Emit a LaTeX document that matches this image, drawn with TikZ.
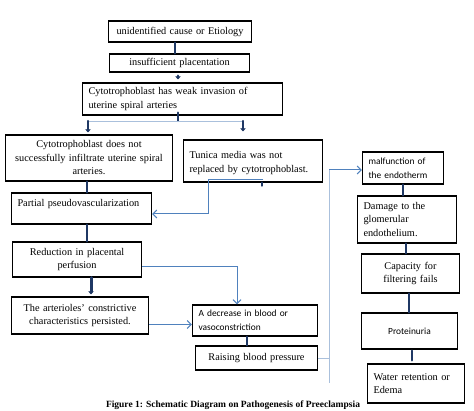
\documentclass[tikz,border=0pt]{standalone}
\usepackage{fontspec}
\setmainfont{Liberation Serif}
\newfontfamily\calibri{Carlito}
\usetikzlibrary{arrows.meta}
\definecolor{linkdark}{RGB}{31,56,100}
\definecolor{flowblue}{RGB}{79,129,189}
\definecolor{paleblue}{RGB}{170,192,220}
\tikzset{
  block/.style={rectangle, draw=black, line width=1.3pt, inner xsep=4pt,
                inner ysep=2pt, align=center,
                font=\fontsize{10.3}{13.5}\selectfont},
  blockL/.style={block, inner xsep=6pt, align=left},
  blockS/.style={block, font=\calibri\fontsize{9.4}{14}\selectfont},
  blockSL/.style={blockS, inner xsep=6pt, align=left},
  link/.style={draw=linkdark, line width=2.4pt, line cap=round},
  linkarrow/.style={link, -{Triangle[length=3pt,width=5.5pt]}},
  arrow/.style={-{Straight Barb[length=4pt,width=8pt]}, draw=flowblue,
                line width=1pt},
  thinline/.style={draw=paleblue, line width=0.9pt},
  caption/.style={font=\bfseries\fontsize{9.5}{11}\selectfont},
}

\begin{document}
\begin{tikzpicture}[x=1pt, y=-1pt]
  \useasboundingbox (0,0) rectangle (474,411);

  % --- Nodes ---
  \node[block, text width=135pt, minimum height=21pt] (cause) at (180,31.5)
    {unidentified cause or Etiology};
  \node[block, text width=132pt, minimum height=18pt] (placent) at (179.5,63)
    {insufficient placentation};
  \node[blockL, text width=188pt, minimum height=32pt] (weakinv) at (182.5,99)
    {Cytotrophoblast has weak invasion of\\uterine spiral arteries};

  \node[block, text width=159pt, minimum height=46pt] (noinfil) at (89,158)
    {Cytotrophoblast does not\\successfully infiltrate uterine spiral\\arteries.};
  \node[blockL, text width=127pt, minimum height=42pt, text depth=11.5pt] (tunica) at (253,161)
    {Tunica media was not\\replaced by cytotrophoblast.};

  \node[blockL, text width=128pt, minimum height=31pt, text depth=11pt] (pseudo) at (81.5,208.5)
    {Partial pseudovascularization};
  \node[block, text width=121pt, minimum height=35pt] (perfus) at (77,259.5)
    {Reduction in placental\\perfusion};
  \node[block, text width=129pt, minimum height=37pt] (constr) at (80,315.5)
    {The arterioles' constrictive\\characteristics persisted.};

  \node[blockSL, text width=113pt, minimum height=31pt] (vasoc) at (255,320.5)
    {A decrease in blood or\\vasoconstriction};
  \node[block, text width=114pt, minimum height=24pt] (bp) at (256.5,358)
    {Raising blood pressure};

  \node[blockSL, text width=69pt, minimum height=32pt] (endoth) at (403,168)
    {malfunction of\\the endotherm};
  \node[blockL, text width=87pt, minimum height=47pt] (glomer) at (407,219.5)
    {Damage to the\\glomerular\\endothelium.};
  \node[block, text width=90pt, minimum height=39pt] (filter) at (410.5,273.5)
    {Capacity for\\filtering fails};
  \node[blockS, text width=88pt, minimum height=36pt] (protein) at (409.5,331)
    {Proteinuria};
  \node[blockL, text width=85pt, minimum height=39pt] (edema) at (416,383.5)
    {Water retention or\\Edema};

  \node[caption, anchor=base] (title) at (233,407.5)
    {Figure 1: Schematic Diagram on Pathogenesis of Preeclampsia};

  % --- Edges ---
  \coordinate (split) at (178,121);
  \coordinate (riseB) at (329,383);

  \draw[link] ([xshift=-5pt]cause.south) -- ([xshift=-4.5pt]placent.north);
  \draw[linkarrow, shorten <=3pt, shorten >=3pt]
    ([xshift=-1.5pt]placent.south) -- ([xshift=-4.5pt]weakinv.north);
  \draw[link] ([xshift=-4.5pt,yshift=3pt]weakinv.south) -- (split);
  \draw[thinline] ([xshift=-1pt]noinfil.north |- split)
    -- ([xshift=-10pt]tunica.north |- split);
  \draw[linkarrow, shorten >=2pt]
    ([xshift=-1pt]noinfil.north |- split) -- ([xshift=-1pt]noinfil.north);
  \draw[linkarrow, shorten >=8pt]
    ([xshift=-10pt]tunica.north |- split) -- ([xshift=-10pt]tunica.north);

  \draw[arrow] ([xshift=10pt,yshift=3pt]tunica.south) -- ++(-55,0)
    |- ([yshift=-5.5pt]pseudo.east);
  \draw[link] ([xshift=9pt]tunica.south) -- ++(0,3);

  \draw[link] ([xshift=-2pt]noinfil.south) -- ([xshift=-2pt]noinfil.south |- pseudo.north);
  \draw[link] ([xshift=5.5pt]pseudo.south) -- ([xshift=5.5pt]pseudo.south |- perfus.north);
  \draw[linkarrow, line width=3pt, shorten >=2pt]
    ([xshift=14pt]perfus.south) -- ([xshift=14pt]perfus.south |- constr.north);

  \draw[arrow] ([yshift=-7.5pt]perfus.east) -| ([xshift=-18pt]vasoc.north);
  \draw[arrow] ([yshift=-9pt]constr.east) -- ([yshift=-9pt]constr.east -| vasoc.west);
  \draw[link] ([xshift=-8pt]vasoc.south) -- ([xshift=-8pt]vasoc.south |- bp.north);

  \draw[thinline] (bp.east) -- (bp.east -| riseB);
  \draw[thinline] (riseB) -- ([yshift=-2pt]riseB |- endoth.west);
  \draw[arrow] ([yshift=-2pt]riseB |- endoth.west) -- ([yshift=-2pt]endoth.west);

  \draw[link] (endoth.south) -- (endoth.south |- glomer.north);
  \draw[link] ([xshift=-1pt]glomer.south) -- ([xshift=-1pt]glomer.south |- filter.north);
  \draw[link] ([xshift=-1.5pt]filter.south) -- ([xshift=-1.5pt]filter.south |- protein.north);
  \draw[link, shorten <=1pt, shorten >=3pt]
    ([xshift=2.5pt]protein.south) -- ([xshift=2.5pt]protein.south |- edema.north);

\end{tikzpicture}
\end{document}
